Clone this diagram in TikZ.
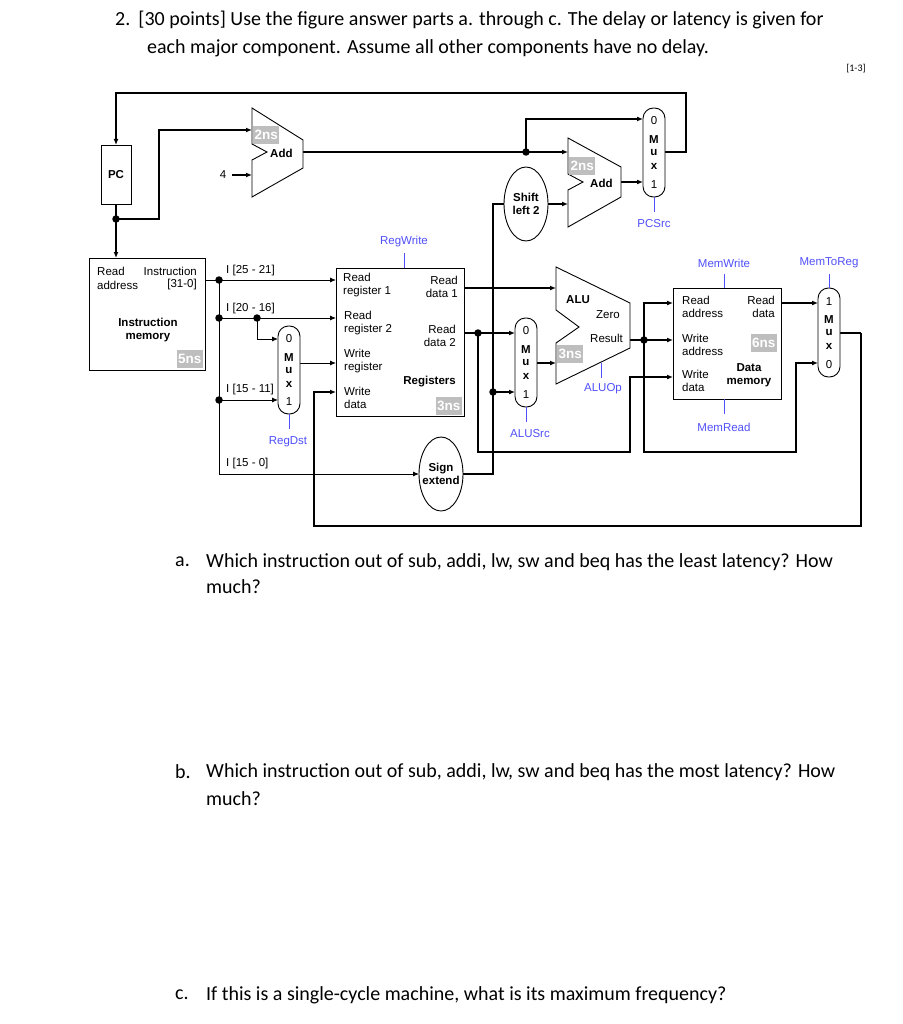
\documentclass[tikz,border=0pt]{standalone}
\usepackage{fontspec}
\setmainfont{Carlito}
\newfontfamily\arial{Liberation Sans}
\usetikzlibrary{arrows.meta}
\definecolor{ctl}{RGB}{80,80,250}
\definecolor{gbox}{RGB}{190,190,190}
\begin{document}
\begin{tikzpicture}[x=1pt,y=-1pt,
  thk/.style={line width=2.2pt},
  thn/.style={line width=0.9pt},
  arr/.style={-{Latex[length=6pt,width=5pt]}},
  blk/.style={draw,line width=0.9pt,fill=white},
  lbl/.style={font=\arial\fontsize{11.5}{13.5}\selectfont,inner sep=0pt,align=left},
  blbl/.style={font=\arial\bfseries\fontsize{11.5}{13.5}\selectfont,inner sep=0pt,align=center},
  ctlt/.style={font=\arial\fontsize{11.5}{13.5}\selectfont,text=ctl,inner sep=0pt},
  ctll/.style={draw=ctl,line width=0.9pt},
  gray/.style={fill=gbox,text=white,font=\arial\bfseries\fontsize{13.5}{13.5}\selectfont,inner sep=1.5pt,minimum height=18pt},
  dot/.style={circle,fill=black,inner sep=0pt,minimum size=7.5pt},
  mux/.style={draw,line width=0.9pt,fill=white,rounded corners=10.5pt},
  q/.style={font=\fontsize{20}{24}\selectfont,inner sep=0pt,anchor=west}]
\useasboundingbox (0,0) rectangle (902,1024);
\fill[white] (0,0) rectangle (902,1024);
% header text
\node[q] at (115,20) {2.\hspace{8pt}[30 points] Use the figure answer parts a. through c. The delay or latency is given for};
\node[q] at (147,48) {each major component. Assume all other components have no delay.};
\node[font=\fontsize{10}{11}\selectfont,inner sep=0pt] at (856,69) {[1-3]};
\node[q] at (175,562) {a.};
\node[q] at (206,562) {Which instruction out of sub, addi, lw, sw and beq has the least latency? How};
\node[q] at (206,587) {much?};
\node[q] at (175,772) {b.};
\node[q] at (206,772) {Which instruction out of sub, addi, lw, sw and beq has the most latency? How};
\node[q] at (206,799) {much?};
\node[q] at (175,995) {c.};
\node[q] at (206,995) {If this is a single-cycle machine, what is its maximum frequency?};

% wires
\coordinate (pctop) at (116,145);
\coordinate (pcj) at (116,219);
\draw[thk,arr] (665,152) -- (686,152) -- (686,93) -- (116,93) -- (pctop);
\draw[thk] (116,204) -- (pcj);
\draw[thk,arr] (pcj) -- (116,258);
\draw[thk,arr] (pcj) -- (159,219) -- (159,130) -- (252,130);
\draw[thk,arr] (232,175) -- (252,175);
\node[lbl] at (223,175) {4};
\draw[thk,arr] (303,152) -- (568,152);
\coordinate (aj) at (526,152);
\draw[thk,arr] (aj) -- (526,119) -- (643,119);
\draw[thk,arr] (621,182) -- (643,182);
\draw[thk,arr] (548,204) -- (568,204);
\coordinate (ij) at (219,280);
\draw[thn,arr] (205,280) -- (336,280);
\draw[thn] (ij) -- (219,474);
\draw[thn,arr] (219,318) -- (336,318);
\draw[thn,arr] (257,318) -- (257,339) -- (278,339);
\draw[thn,arr] (219,400) -- (278,400);
\draw[thn,arr] (219,474) -- (419,474);
\draw[thn,arr] (300,363) -- (336,363);
\draw[thk,arr] (861,333) -- (861,526) -- (314,526) -- (314,392) -- (336,392);
\draw[thk] (840,333) -- (861,333);
\draw[thk,arr] (464,288) -- (556,288);
\draw[thk,arr] (464,333) -- (515,333);
\draw[thk,arr] (478,333) -- (478,452) -- (630,452) -- (630,377) -- (673,377);
\draw[thk] (463,474) -- (493,474) -- (493,204) -- (504,204);
\draw[thk,arr] (493,392) -- (515,392);
\draw[thk,arr] (537,363) -- (556,363);
\draw[thk,arr] (630,340) -- (673,340);
\draw[thk,arr] (644,340) -- (644,303) -- (673,303);
\draw[thk,arr] (644,340) -- (644,452) -- (796,452) -- (796,363) -- (818,363);
\draw[thk,arr] (781,303) -- (818,303);

\foreach \p in {(pcj),(aj),(ij),(219,318),(257,318),(219,400),(478,333),(493,392),(644,340)}
  \node[dot] at \p {};

% PC
\node[blk,minimum width=30pt,minimum height=59pt,blbl] (pc) at (116,174.5) {PC};
% adders
\draw[blk] (252,108) -- (303,140) -- (303,168) -- (252,197) -- (252,160) -- (267,152) -- (252,144) -- cycle;
\node[gray,anchor=north west] at (253,126) {2ns};
\node[blbl,anchor=west] at (270,153) {Add};
\draw[blk] (568,138) -- (621,167) -- (621,197) -- (568,227) -- (568,190) -- (583,182) -- (568,174) -- cycle;
\node[gray,anchor=north west] at (569,157) {2ns};
\node[blbl,anchor=west] at (590,183) {Add};
% PC mux
\draw[mux] (643,108) rectangle (665,197);
\node[lbl] at (654,121) {0};
\node[blbl] at (654,140) {M};
\node[blbl] at (654,153) {u};
\node[blbl] at (654,166) {x};
\node[lbl] at (654,185) {1};
\draw[ctll] (654,197) -- (654,212);
\node[ctlt] at (654,224) {PCSrc};
% shift left 2
\draw[blk] (526,204) ellipse (22 and 37);
\node[blbl] (sl) at (526,204) {Shift\\left 2};
% instruction memory
\draw[blk] (89,258) rectangle (205,370);
\node[lbl,anchor=west] at (97,271) {Read};
\node[lbl,anchor=east] at (197,271) {Instruction};
\node[lbl,anchor=west] at (97,285) {address};
\node[lbl,anchor=east] at (197,285) {[31-0]};
\node[blbl] at (148,330) {Instruction\\memory};
\node[gray,anchor=south east] at (203,368) {5ns};
\node[lbl,anchor=west] at (226,271) {I [25 - 21]};
\node[lbl,anchor=west] at (226,309) {I [20 - 16]};
\node[lbl,anchor=west] at (226,390) {I [15 - 11]};
\node[lbl,anchor=west] at (226,464) {I [15 - 0]};
% regdst mux
\draw[mux] (278,326) rectangle (300,414);
\node[lbl] at (289,339) {0};
\node[blbl] at (289,358) {M};
\node[blbl] at (289,371) {u};
\node[blbl] at (289,384) {x};
\node[lbl] at (289,402) {1};
\draw[ctll] (289,414) -- (289,429);
\node[ctlt] at (288,442) {RegDst};
% register file
\draw[blk] (336,268) rectangle (464,416);
\node[lbl,anchor=west] at (343,285) {Read\\register 1};
\node[lbl,anchor=east,align=right] at (458,287) {Read\\data 1};
\node[lbl,anchor=west] at (344,323) {Read\\register 2};
\node[lbl,anchor=east,align=right] at (456,336) {Read\\data 2};
\node[lbl,anchor=west] at (344,361) {Write\\register};
\node[lbl,anchor=west] at (344,398) {Write\\data};
\node[blbl,anchor=east] at (456,382) {Registers};
\node[gray,anchor=south east] at (462,415) {3ns};
\draw[ctll] (404,253) -- (404,268);
\node[ctlt] at (404,242) {RegWrite};
% sign extend
\draw[blk] (441,474) ellipse (22 and 37);
\node[blbl] at (441,474) {Sign\\extend};
% alu mux
\draw[mux] (515,318) rectangle (537,407);
\node[lbl] at (526,331) {0};
\node[blbl] at (526,350) {M};
\node[blbl] at (526,363) {u};
\node[blbl] at (526,376) {x};
\node[lbl] at (526,395) {1};
\draw[ctll] (526,407) -- (526,422);
\node[ctlt] at (530,434) {ALUSrc};
% ALU
\draw[blk] (556,267) -- (630,303) -- (630,348) -- (556,384) -- (556,343) -- (579,327) -- (556,310) -- cycle;
\node[blbl,anchor=west] at (566,300) {ALU};
\node[lbl,anchor=east] at (620,315) {Zero};
\node[lbl,anchor=east] at (623,338) {Result};
\node[gray,anchor=north west] at (557,345) {3ns};
\draw[ctll] (601,363) -- (601,378);
\node[ctlt] at (603,389) {ALUOp};
% data memory
\draw[blk] (673,288) rectangle (781,399);
\node[lbl,anchor=west] at (682,307) {Read\\address};
\node[lbl,anchor=east,align=right] at (775,307) {Read\\data};
\node[lbl,anchor=west] at (682,345) {Write\\address};
\node[gray,anchor=north east] at (777,334) {6ns};
\node[lbl,anchor=west] at (682,381) {Write\\data};
\node[blbl] at (749,375) {Data\\memory};
\draw[ctll] (724,274) -- (724,288);
\node[ctlt] at (724,263) {MemWrite};
\draw[ctll] (724,399) -- (724,414);
\node[ctlt] at (724,427) {MemRead};
% memtoreg mux
\draw[mux] (818,288) rectangle (840,377);
\node[lbl] at (829,302) {1};
\node[blbl] at (829,320) {M};
\node[blbl] at (829,333) {u};
\node[blbl] at (829,346) {x};
\node[lbl] at (829,365) {0};
\draw[ctll] (829,274) -- (829,288);
\node[ctlt] at (829,263) {MemToReg};
\end{tikzpicture}
\end{document}
